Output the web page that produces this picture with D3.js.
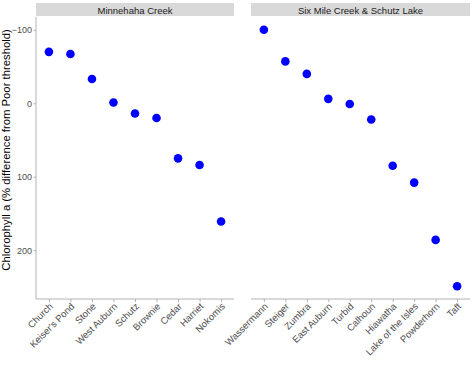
<!DOCTYPE html>
<html>
<head>
<meta charset="utf-8">
<script src="https://cdn.jsdelivr.net/npm/d3@7"></script>
<style>
  body { margin: 0; background: #fff; }
  text { font-family: "Liberation Sans", Arial, sans-serif; }
</style>
</head>
<body>
<div id="chart"></div>
<script>
// facet 1
const minnehahaLakes = ["Church", "Keiser's Pond", "Stone", "West Auburn", "Schutz", "Brownie", "Cedar", "Harriet", "Nokomis"];
const minnehahaValues = [-70, -67, -33, -1, 14, 20, 75, 84, 161];
// facet 2
const sixMileLakes = ["Wassermann", "Steiger", "Zumbra", "East Auburn", "Turbid", "Calhoun", "Hiawatha", "Lake of the Isles", "Powderhorn", "Taft"];
const sixMileValues = [-100, -57, -40, -6, 1, 22, 85, 108, 186, 249];

const facets = [
  { title: "Minnehaha Creek", lakes: minnehahaLakes, values: minnehahaValues },
  { title: "Six Mile Creek & Schutz Lake", lakes: sixMileLakes, values: sixMileValues }
];
const yTicks = [-100, 0, 100, 200];
const yTitle = "Chlorophyll a (% difference from Poor threshold)";

const width = 474, height = 366;
const panelTop = 17, panelBottom = 299;
const panelX = [[36, 234], [251, 470]];
const axisColor = "#b3b3b3";
const labelColor = "#4d4d4d";

const svg = d3.select("#chart").append("svg")
  .attr("width", width).attr("height", height);

// shared y scale, reversed (ggplot scale_y_reverse with 5% expansion)
const allValues = minnehahaValues.concat(sixMileValues);
const yMin = d3.min(allValues), yMax = d3.max(allValues);
const pad = (yMax - yMin) * 0.05;
const y = d3.scaleLinear()
  .domain([yMin - pad, yMax + pad])
  .range([panelTop, panelBottom]);

function drawStrip(g, x0, x1, title) {
  g.append("rect")
    .attr("x", x0).attr("y", 3)
    .attr("width", x1 - x0).attr("height", 13)
    .attr("fill", "#d9d9d9");
  g.append("text")
    .attr("x", (x0 + x1) / 2).attr("y", 13.5)
    .attr("text-anchor", "middle")
    .attr("font-size", "9.5px")
    .attr("fill", "#1a1a1a")
    .text(title);
}

function drawPanel(facet, i) {
  const [x0, x1] = panelX[i];
  const g = svg.append("g");
  drawStrip(g, x0, x1, facet.title);

  const x = d3.scalePoint()
    .domain(facet.lakes)
    .range([x0, x1])
    .padding(0.6);

  // x axis
  const xAxis = g.append("g")
    .attr("transform", `translate(0,${panelBottom})`)
    .call(d3.axisBottom(x).tickSizeOuter(0).tickSize(3));
  xAxis.select(".domain").attr("stroke", axisColor).attr("d", `M${x0},0H${x1}`);
  xAxis.selectAll(".tick line").attr("stroke", axisColor);
  xAxis.selectAll(".tick text")
    .attr("fill", labelColor)
    .attr("font-size", "9.5px")
    .attr("text-anchor", "end")
    .attr("dy", null)
    .attr("y", 0)
    .attr("transform", "translate(4,8) rotate(-45)");

  // y axis on first panel only
  if (i === 0) {
    const yAxis = g.append("g")
      .attr("transform", `translate(${x0},0)`)
      .call(d3.axisLeft(y).tickValues(yTicks).tickSize(2.5).tickPadding(1.5).tickSizeOuter(0)
        .tickFormat(d => d < 0 ? "\u2212" + Math.abs(d) : String(d)));
    yAxis.select(".domain").attr("stroke", axisColor).attr("d", `M0,${panelTop}V${panelBottom}`);
    yAxis.selectAll(".tick line").attr("stroke", axisColor);
    yAxis.selectAll(".tick text")
      .attr("fill", labelColor)
      .attr("font-size", "9px");
  }

  g.selectAll("circle")
    .data(facet.lakes.map((d, j) => ({ lake: d, value: facet.values[j] })))
    .enter()
    .append("circle")
    .attr("cx", d => x(d.lake))
    .attr("cy", d => y(d.value))
    .attr("r", 4.3)
    .attr("fill", "#0000ff");
}

facets.forEach(drawPanel);

svg.append("text")
  .attr("transform", "translate(10,150) rotate(-90)")
  .attr("text-anchor", "middle")
  .attr("font-size", "11.3px")
  .attr("fill", "#000")
  .text(yTitle);
</script>
</body>
</html>
